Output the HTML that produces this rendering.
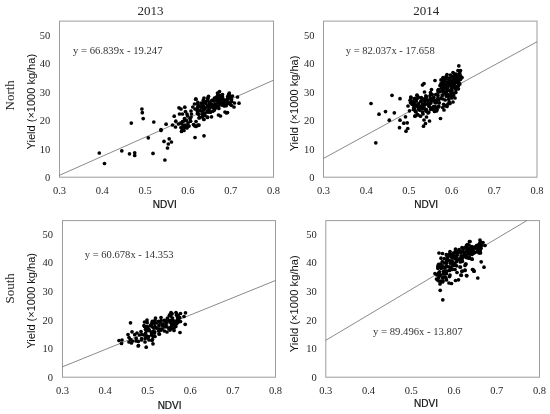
<!DOCTYPE html>
<html lang="en"><head><meta charset="utf-8"><title>NDVI vs Yield</title>
<style>
html,body{margin:0;padding:0;background:#fff;}
body{width:550px;height:414px;overflow:hidden;}
svg{display:block;}
.se{font-family:"Liberation Serif","DejaVu Serif",serif;}
.sa{font-family:"Liberation Sans","DejaVu Sans",sans-serif;}
</style></head><body>
<svg width="550" height="414" viewBox="0 0 550 414">
<rect width="550" height="414" fill="#fff"/>
<g class="se" fill="#262626" font-size="13px" text-anchor="middle"><text x="150.6" y="15">2013</text><text x="426.2" y="15">2014</text><text transform="translate(14.0,95.3) rotate(-90)">North</text><text transform="translate(14.3,288.4) rotate(-90)">South</text></g>
<g id="TL">
<rect x="59.5" y="21.1" width="214.0" height="156.1" fill="none" stroke="#9c9c9c" stroke-width="1"/>
<line x1="59.5" y1="175.3" x2="273.5" y2="80.2" stroke="#585858" stroke-width="0.7"/>
<g class="se" fill="#262626" font-size="10.5px" text-anchor="end"><text x="50.2" y="181.0">0</text><text x="50.2" y="152.5">10</text><text x="50.2" y="124.1">20</text><text x="50.2" y="95.6">30</text><text x="50.2" y="67.2">40</text><text x="50.2" y="38.7">50</text></g>
<g class="se" fill="#262626" font-size="10.5px" text-anchor="middle"><text x="59.5" y="193.7">0.3</text><text x="102.3" y="193.7">0.4</text><text x="145.1" y="193.7">0.5</text><text x="187.9" y="193.7">0.6</text><text x="230.7" y="193.7">0.7</text><text x="273.5" y="193.7">0.8</text></g>
<text class="sa" fill="#111" stroke="#111" stroke-width="0.2" font-size="10px" text-anchor="middle" x="164.75" y="207.6">NDVI</text>
<text class="sa" fill="#111" font-size="11px" text-anchor="middle" textLength="95.5" lengthAdjust="spacingAndGlyphs" transform="translate(34.6,101.7) rotate(-90)">Yield (×1000 kg/ha)</text>
<text class="se" fill="#333" font-size="10.6px" x="73.1" y="53.5" textLength="89.4" lengthAdjust="spacingAndGlyphs">y = 66.839x - 19.247</text>
<g fill="#000"><circle cx="141.9" cy="109.0" r="1.85"/><circle cx="142.3" cy="112.7" r="1.85"/><circle cx="143.2" cy="118.6" r="1.85"/><circle cx="131.3" cy="123.1" r="1.85"/><circle cx="99.3" cy="153.0" r="1.85"/><circle cx="104.5" cy="163.5" r="1.85"/><circle cx="121.8" cy="150.8" r="1.85"/><circle cx="129.5" cy="153.8" r="1.85"/><circle cx="134.7" cy="152.8" r="1.85"/><circle cx="134.7" cy="155.5" r="1.85"/><circle cx="161.0" cy="130.5" r="1.85"/><circle cx="148.3" cy="137.8" r="1.85"/><circle cx="164.0" cy="141.4" r="1.85"/><circle cx="169.2" cy="138.8" r="1.85"/><circle cx="171.4" cy="142.0" r="1.85"/><circle cx="168.3" cy="144.0" r="1.85"/><circle cx="167.5" cy="148.0" r="1.85"/><circle cx="153.0" cy="153.4" r="1.85"/><circle cx="164.9" cy="160.0" r="1.85"/><circle cx="181.5" cy="131.5" r="1.85"/><circle cx="184.0" cy="130.5" r="1.85"/><circle cx="195.0" cy="137.5" r="1.85"/><circle cx="153.8" cy="122.0" r="1.85"/><circle cx="166.1" cy="124.2" r="1.85"/><circle cx="161.0" cy="129.5" r="1.85"/><circle cx="172.5" cy="125.0" r="1.85"/><circle cx="174.2" cy="116.2" r="1.85"/><circle cx="175.8" cy="121.2" r="1.85"/><circle cx="175.5" cy="127.0" r="1.85"/><circle cx="178.5" cy="124.0" r="1.85"/><circle cx="179.0" cy="107.8" r="1.85"/><circle cx="181.0" cy="109.0" r="1.85"/><circle cx="184.8" cy="107.2" r="1.85"/><circle cx="179.5" cy="114.0" r="1.85"/><circle cx="182.5" cy="114.0" r="1.85"/><circle cx="185.5" cy="111.5" r="1.85"/><circle cx="187.0" cy="114.0" r="1.85"/><circle cx="187.5" cy="116.0" r="1.85"/><circle cx="184.5" cy="118.5" r="1.85"/><circle cx="182.5" cy="121.5" r="1.85"/><circle cx="182.0" cy="124.0" r="1.85"/><circle cx="183.5" cy="126.0" r="1.85"/><circle cx="181.0" cy="127.5" r="1.85"/><circle cx="185.0" cy="127.5" r="1.85"/><circle cx="187.5" cy="126.0" r="1.85"/><circle cx="190.5" cy="121.2" r="1.85"/><circle cx="191.0" cy="117.0" r="1.85"/><circle cx="191.5" cy="114.0" r="1.85"/><circle cx="191.0" cy="111.0" r="1.85"/><circle cx="192.8" cy="107.0" r="1.85"/><circle cx="194.5" cy="104.0" r="1.85"/><circle cx="195.7" cy="99.2" r="1.85"/><circle cx="195.0" cy="109.0" r="1.85"/><circle cx="197.5" cy="110.5" r="1.85"/><circle cx="198.0" cy="114.0" r="1.85"/><circle cx="199.0" cy="118.0" r="1.85"/><circle cx="196.0" cy="121.5" r="1.85"/><circle cx="194.0" cy="125.0" r="1.85"/><circle cx="196.0" cy="126.5" r="1.85"/><circle cx="199.0" cy="125.0" r="1.85"/><circle cx="196" cy="99" r="1.85"/><circle cx="204" cy="98" r="1.85"/><circle cx="208.5" cy="96.3" r="1.85"/><circle cx="214.5" cy="98" r="1.85"/><circle cx="217.5" cy="93" r="1.85"/><circle cx="219.5" cy="91.5" r="1.85"/><circle cx="219" cy="95" r="1.85"/><circle cx="222.5" cy="94.5" r="1.85"/><circle cx="229.3" cy="93" r="1.85"/><circle cx="229.5" cy="95.5" r="1.85"/><circle cx="232.5" cy="96" r="1.85"/><circle cx="237.5" cy="97" r="1.85"/><circle cx="239" cy="103.2" r="1.85"/><circle cx="234" cy="107" r="1.85"/><circle cx="234.5" cy="103" r="1.85"/><circle cx="225" cy="112" r="1.85"/><circle cx="227.5" cy="112.5" r="1.85"/><circle cx="218.5" cy="115" r="1.85"/><circle cx="220.5" cy="116" r="1.85"/><circle cx="211.5" cy="116.8" r="1.85"/><circle cx="207.5" cy="117" r="1.85"/><circle cx="204" cy="119.5" r="1.85"/><circle cx="199.5" cy="117.5" r="1.85"/><circle cx="198" cy="125" r="1.85"/><circle cx="204" cy="135.8" r="1.85"/><circle cx="198" cy="125.5" r="1.85"/><circle cx="195" cy="126" r="1.85"/><circle cx="193.5" cy="124.5" r="1.85"/><circle cx="190.5" cy="121" r="1.85"/><circle cx="186.5" cy="125.5" r="1.85"/><circle cx="188.5" cy="126" r="1.85"/><circle cx="203.5" cy="119" r="1.85"/><circle cx="200" cy="117.5" r="1.85"/><circle cx="207.5" cy="117.5" r="1.85"/><circle cx="226.5" cy="113" r="1.85"/><circle cx="217.8" cy="94.9" r="1.85"/><circle cx="220.5" cy="95.5" r="1.85"/><circle cx="228.5" cy="94.7" r="1.85"/><circle cx="207.8" cy="98.0" r="1.85"/><circle cx="216.3" cy="97.0" r="1.85"/><circle cx="219.1" cy="98.1" r="1.85"/><circle cx="222.5" cy="97.1" r="1.85"/><circle cx="227.7" cy="96.5" r="1.85"/><circle cx="228.9" cy="97.9" r="1.85"/><circle cx="231.3" cy="96.7" r="1.85"/><circle cx="203.3" cy="100.2" r="1.85"/><circle cx="207.9" cy="98.8" r="1.85"/><circle cx="212.5" cy="100.2" r="1.85"/><circle cx="216.6" cy="99.2" r="1.85"/><circle cx="219.0" cy="100.2" r="1.85"/><circle cx="220.6" cy="99.4" r="1.85"/><circle cx="223.0" cy="99.2" r="1.85"/><circle cx="225.0" cy="100.2" r="1.85"/><circle cx="227.6" cy="98.7" r="1.85"/><circle cx="231.4" cy="99.3" r="1.85"/><circle cx="197.8" cy="102.4" r="1.85"/><circle cx="204.6" cy="101.4" r="1.85"/><circle cx="207.4" cy="100.9" r="1.85"/><circle cx="209.5" cy="102.1" r="1.85"/><circle cx="211.5" cy="100.9" r="1.85"/><circle cx="214.1" cy="101.1" r="1.85"/><circle cx="217.1" cy="101.2" r="1.85"/><circle cx="220.0" cy="100.9" r="1.85"/><circle cx="222.9" cy="102.5" r="1.85"/><circle cx="224.6" cy="101.4" r="1.85"/><circle cx="227.1" cy="101.1" r="1.85"/><circle cx="230.2" cy="102.0" r="1.85"/><circle cx="231.7" cy="101.5" r="1.85"/><circle cx="197.9" cy="104.2" r="1.85"/><circle cx="201.2" cy="103.1" r="1.85"/><circle cx="202.5" cy="103.6" r="1.85"/><circle cx="205.8" cy="103.5" r="1.85"/><circle cx="209.0" cy="104.6" r="1.85"/><circle cx="210.5" cy="104.0" r="1.85"/><circle cx="212.4" cy="104.5" r="1.85"/><circle cx="215.4" cy="104.2" r="1.85"/><circle cx="218.7" cy="103.3" r="1.85"/><circle cx="221.3" cy="103.4" r="1.85"/><circle cx="223.3" cy="103.2" r="1.85"/><circle cx="225.6" cy="104.4" r="1.85"/><circle cx="227.9" cy="103.3" r="1.85"/><circle cx="230.2" cy="104.2" r="1.85"/><circle cx="197.9" cy="106.6" r="1.85"/><circle cx="200.3" cy="106.1" r="1.85"/><circle cx="202.7" cy="106.8" r="1.85"/><circle cx="203.7" cy="106.1" r="1.85"/><circle cx="207.5" cy="106.3" r="1.85"/><circle cx="210.0" cy="105.3" r="1.85"/><circle cx="211.8" cy="105.5" r="1.85"/><circle cx="214.5" cy="106.9" r="1.85"/><circle cx="217.1" cy="106.4" r="1.85"/><circle cx="219.0" cy="105.6" r="1.85"/><circle cx="222.5" cy="105.2" r="1.85"/><circle cx="224.3" cy="105.9" r="1.85"/><circle cx="226.2" cy="105.7" r="1.85"/><circle cx="231.3" cy="105.3" r="1.85"/><circle cx="197.7" cy="107.7" r="1.85"/><circle cx="201.0" cy="107.3" r="1.85"/><circle cx="203.9" cy="107.5" r="1.85"/><circle cx="205.5" cy="108.1" r="1.85"/><circle cx="209.0" cy="108.6" r="1.85"/><circle cx="210.2" cy="107.6" r="1.85"/><circle cx="213.3" cy="107.6" r="1.85"/><circle cx="215.5" cy="108.1" r="1.85"/><circle cx="218.8" cy="108.4" r="1.85"/><circle cx="197.2" cy="110.8" r="1.85"/><circle cx="200.2" cy="110.6" r="1.85"/><circle cx="202.4" cy="110.8" r="1.85"/><circle cx="203.9" cy="109.7" r="1.85"/><circle cx="207.3" cy="111.1" r="1.85"/><circle cx="209.1" cy="110.7" r="1.85"/><circle cx="212.8" cy="111.2" r="1.85"/><circle cx="214.4" cy="110.1" r="1.85"/><circle cx="197.5" cy="113.3" r="1.85"/><circle cx="203.2" cy="113.1" r="1.85"/><circle cx="205.1" cy="113.0" r="1.85"/><circle cx="208.0" cy="112.2" r="1.85"/><circle cx="210.5" cy="112.2" r="1.85"/><circle cx="198.9" cy="114.2" r="1.85"/><circle cx="202.4" cy="113.9" r="1.85"/><circle cx="205.0" cy="115.5" r="1.85"/><circle cx="202.4" cy="116.5" r="1.85"/><circle cx="181" cy="123" r="1.85"/><circle cx="183" cy="127.2" r="1.85"/><circle cx="185" cy="125" r="1.85"/><circle cx="187" cy="128" r="1.85"/><circle cx="182" cy="130" r="1.85"/><circle cx="184" cy="121" r="1.85"/><circle cx="188" cy="123" r="1.85"/><circle cx="190" cy="118.5" r="1.85"/><circle cx="186.5" cy="120.5" r="1.85"/><circle cx="189" cy="126" r="1.85"/></g>
</g>
<g id="TR">
<rect x="323.5" y="21.1" width="213.5" height="156.1" fill="none" stroke="#9c9c9c" stroke-width="1"/>
<line x1="323.5" y1="158.4" x2="537.0" y2="41.8" stroke="#585858" stroke-width="0.7"/>
<g class="se" fill="#262626" font-size="10.5px" text-anchor="end"><text x="314.5" y="181.0">0</text><text x="314.5" y="152.5">10</text><text x="314.5" y="124.1">20</text><text x="314.5" y="95.6">30</text><text x="314.5" y="67.2">40</text><text x="314.5" y="38.7">50</text></g>
<g class="se" fill="#262626" font-size="10.5px" text-anchor="middle"><text x="323.5" y="193.8">0.3</text><text x="366.2" y="193.8">0.4</text><text x="408.9" y="193.8">0.5</text><text x="451.6" y="193.8">0.6</text><text x="494.3" y="193.8">0.7</text><text x="537.0" y="193.8">0.8</text></g>
<text class="sa" fill="#111" stroke="#111" stroke-width="0.2" font-size="10px" text-anchor="middle" x="426.2" y="207.6">NDVI</text>
<text class="sa" fill="#111" font-size="11px" text-anchor="middle" textLength="95.7" lengthAdjust="spacingAndGlyphs" transform="translate(297.6,103.5) rotate(-90)">Yield (×1000 kg/ha)</text>
<text class="se" fill="#333" font-size="10.6px" x="345.7" y="53.5" textLength="89.0" lengthAdjust="spacingAndGlyphs">y = 82.037x - 17.658</text>
<g fill="#000"><circle cx="371" cy="103.5" r="1.85"/><circle cx="392" cy="95.3" r="1.85"/><circle cx="400" cy="98.7" r="1.85"/><circle cx="379" cy="114.2" r="1.85"/><circle cx="385.5" cy="111.6" r="1.85"/><circle cx="394.3" cy="112.8" r="1.85"/><circle cx="389.3" cy="120.2" r="1.85"/><circle cx="400" cy="120.2" r="1.85"/><circle cx="405.5" cy="116.8" r="1.85"/><circle cx="403.8" cy="123.2" r="1.85"/><circle cx="407.2" cy="122.8" r="1.85"/><circle cx="408" cy="106" r="1.85"/><circle cx="409.5" cy="110.8" r="1.85"/><circle cx="410.8" cy="97" r="1.85"/><circle cx="411" cy="100" r="1.85"/><circle cx="412.5" cy="102" r="1.85"/><circle cx="414" cy="108.5" r="1.85"/><circle cx="414.5" cy="104.5" r="1.85"/><circle cx="417" cy="95" r="1.85"/><circle cx="418" cy="98" r="1.85"/><circle cx="416" cy="112" r="1.85"/><circle cx="415" cy="116" r="1.85"/><circle cx="418" cy="115" r="1.85"/><circle cx="417" cy="105" r="1.85"/><circle cx="419" cy="109" r="1.85"/><circle cx="375.8" cy="142.8" r="1.85"/><circle cx="399.5" cy="127.7" r="1.85"/><circle cx="407.8" cy="128.5" r="1.85"/><circle cx="406" cy="131.2" r="1.85"/><circle cx="440.5" cy="118.5" r="1.85"/><circle cx="426.5" cy="117" r="1.85"/><circle cx="424" cy="120" r="1.85"/><circle cx="429.5" cy="121" r="1.85"/><circle cx="425.5" cy="123.5" r="1.85"/><circle cx="423.5" cy="126.2" r="1.85"/><circle cx="415" cy="116.2" r="1.85"/><circle cx="417.5" cy="114.5" r="1.85"/><circle cx="420.5" cy="116.2" r="1.85"/><circle cx="423" cy="114" r="1.85"/><circle cx="415.5" cy="111.5" r="1.85"/><circle cx="428" cy="113" r="1.85"/><circle cx="434.5" cy="111.5" r="1.85"/><circle cx="436.5" cy="111" r="1.85"/><circle cx="444" cy="110" r="1.85"/><circle cx="447" cy="106.5" r="1.85"/><circle cx="450" cy="103.5" r="1.85"/><circle cx="453" cy="102" r="1.85"/><circle cx="455" cy="98" r="1.85"/><circle cx="424.5" cy="92" r="1.85"/><circle cx="417" cy="95.5" r="1.85"/><circle cx="411" cy="97.5" r="1.85"/><circle cx="458.8" cy="65.8" r="1.85"/><circle cx="458" cy="70.5" r="1.85"/><circle cx="460.5" cy="70.5" r="1.85"/><circle cx="459" cy="74" r="1.85"/><circle cx="453" cy="72.5" r="1.85"/><circle cx="462" cy="77.5" r="1.85"/><circle cx="447" cy="74.5" r="1.85"/><circle cx="443" cy="77.5" r="1.85"/><circle cx="435" cy="80.5" r="1.85"/><circle cx="424" cy="83.5" r="1.85"/><circle cx="422.5" cy="85" r="1.85"/><circle cx="441" cy="83.5" r="1.85"/><circle cx="440" cy="85.5" r="1.85"/><circle cx="431.5" cy="89.5" r="1.85"/><circle cx="438.5" cy="89.5" r="1.85"/><circle cx="454.4" cy="74.0" r="1.85"/><circle cx="456.0" cy="74.1" r="1.85"/><circle cx="459.8" cy="72.9" r="1.85"/><circle cx="446.2" cy="76.3" r="1.85"/><circle cx="450.4" cy="75.0" r="1.85"/><circle cx="453.0" cy="76.4" r="1.85"/><circle cx="455.7" cy="75.2" r="1.85"/><circle cx="457.1" cy="76.3" r="1.85"/><circle cx="460.2" cy="75.4" r="1.85"/><circle cx="445.0" cy="78.1" r="1.85"/><circle cx="447.5" cy="78.5" r="1.85"/><circle cx="449.0" cy="78.1" r="1.85"/><circle cx="451.5" cy="77.2" r="1.85"/><circle cx="454.1" cy="77.5" r="1.85"/><circle cx="457.2" cy="78.2" r="1.85"/><circle cx="458.3" cy="77.8" r="1.85"/><circle cx="461.1" cy="77.0" r="1.85"/><circle cx="441.0" cy="79.9" r="1.85"/><circle cx="442.8" cy="79.3" r="1.85"/><circle cx="445.2" cy="79.3" r="1.85"/><circle cx="448.9" cy="80.5" r="1.85"/><circle cx="450.3" cy="80.3" r="1.85"/><circle cx="453.4" cy="80.1" r="1.85"/><circle cx="455.5" cy="79.5" r="1.85"/><circle cx="457.3" cy="80.2" r="1.85"/><circle cx="460.5" cy="79.3" r="1.85"/><circle cx="442.8" cy="81.5" r="1.85"/><circle cx="445.0" cy="81.2" r="1.85"/><circle cx="447.2" cy="82.4" r="1.85"/><circle cx="449.0" cy="82.6" r="1.85"/><circle cx="451.7" cy="82.1" r="1.85"/><circle cx="453.8" cy="81.8" r="1.85"/><circle cx="456.4" cy="82.3" r="1.85"/><circle cx="458.7" cy="81.9" r="1.85"/><circle cx="441.5" cy="84.7" r="1.85"/><circle cx="443.8" cy="84.1" r="1.85"/><circle cx="446.5" cy="84.5" r="1.85"/><circle cx="448.9" cy="83.7" r="1.85"/><circle cx="450.0" cy="84.5" r="1.85"/><circle cx="452.3" cy="84.7" r="1.85"/><circle cx="454.8" cy="84.1" r="1.85"/><circle cx="458.5" cy="83.4" r="1.85"/><circle cx="459.8" cy="83.9" r="1.85"/><circle cx="442.9" cy="86.1" r="1.85"/><circle cx="445.2" cy="86.8" r="1.85"/><circle cx="446.3" cy="86.5" r="1.85"/><circle cx="449.5" cy="85.6" r="1.85"/><circle cx="451.6" cy="85.6" r="1.85"/><circle cx="453.9" cy="85.5" r="1.85"/><circle cx="456.9" cy="86.8" r="1.85"/><circle cx="458.5" cy="85.7" r="1.85"/><circle cx="441.3" cy="88.0" r="1.85"/><circle cx="443.4" cy="88.6" r="1.85"/><circle cx="446.5" cy="87.9" r="1.85"/><circle cx="447.5" cy="87.7" r="1.85"/><circle cx="451.3" cy="87.9" r="1.85"/><circle cx="453.4" cy="87.6" r="1.85"/><circle cx="455.6" cy="88.3" r="1.85"/><circle cx="458.4" cy="88.8" r="1.85"/><circle cx="442.3" cy="90.1" r="1.85"/><circle cx="443.9" cy="90.1" r="1.85"/><circle cx="447.0" cy="90.0" r="1.85"/><circle cx="449.6" cy="90.5" r="1.85"/><circle cx="451.9" cy="90.3" r="1.85"/><circle cx="455.9" cy="89.7" r="1.85"/><circle cx="443.2" cy="92.1" r="1.85"/><circle cx="446.3" cy="91.8" r="1.85"/><circle cx="450.9" cy="92.8" r="1.85"/><circle cx="453.6" cy="93.0" r="1.85"/><circle cx="455.8" cy="92.4" r="1.85"/><circle cx="444.9" cy="93.9" r="1.85"/><circle cx="447.2" cy="93.9" r="1.85"/><circle cx="449.8" cy="95.0" r="1.85"/><circle cx="452.3" cy="94.9" r="1.85"/><circle cx="453.7" cy="95.1" r="1.85"/><circle cx="446.4" cy="96.2" r="1.85"/><circle cx="448.6" cy="96.2" r="1.85"/><circle cx="450.8" cy="95.8" r="1.85"/><circle cx="452.8" cy="96.1" r="1.85"/><circle cx="448.7" cy="99.2" r="1.85"/><circle cx="451.8" cy="97.9" r="1.85"/><circle cx="438.0" cy="90.4" r="1.85"/><circle cx="430.5" cy="92.6" r="1.85"/><circle cx="438.2" cy="92.2" r="1.85"/><circle cx="440.2" cy="91.6" r="1.85"/><circle cx="425.8" cy="95.8" r="1.85"/><circle cx="432.2" cy="94.5" r="1.85"/><circle cx="435.7" cy="94.5" r="1.85"/><circle cx="437.9" cy="95.4" r="1.85"/><circle cx="442.3" cy="95.4" r="1.85"/><circle cx="414.8" cy="98.6" r="1.85"/><circle cx="421.3" cy="97.7" r="1.85"/><circle cx="424.4" cy="98.9" r="1.85"/><circle cx="426.7" cy="96.9" r="1.85"/><circle cx="430.4" cy="98.6" r="1.85"/><circle cx="432.8" cy="98.6" r="1.85"/><circle cx="437.7" cy="98.7" r="1.85"/><circle cx="440.8" cy="98.2" r="1.85"/><circle cx="443.0" cy="99.0" r="1.85"/><circle cx="410.1" cy="100.2" r="1.85"/><circle cx="413.3" cy="101.8" r="1.85"/><circle cx="416.3" cy="99.8" r="1.85"/><circle cx="421.8" cy="100.9" r="1.85"/><circle cx="425.0" cy="101.5" r="1.85"/><circle cx="428.3" cy="100.3" r="1.85"/><circle cx="431.2" cy="101.1" r="1.85"/><circle cx="436.3" cy="100.8" r="1.85"/><circle cx="438.7" cy="99.9" r="1.85"/><circle cx="445.2" cy="100.0" r="1.85"/><circle cx="449.2" cy="101.9" r="1.85"/><circle cx="410.5" cy="102.7" r="1.85"/><circle cx="418.0" cy="104.4" r="1.85"/><circle cx="424.3" cy="104.1" r="1.85"/><circle cx="428.2" cy="103.6" r="1.85"/><circle cx="429.9" cy="103.6" r="1.85"/><circle cx="436.2" cy="102.7" r="1.85"/><circle cx="439.3" cy="102.8" r="1.85"/><circle cx="443.6" cy="104.3" r="1.85"/><circle cx="447.8" cy="104.2" r="1.85"/><circle cx="416.7" cy="106.1" r="1.85"/><circle cx="419.6" cy="106.0" r="1.85"/><circle cx="422.5" cy="107.2" r="1.85"/><circle cx="429.1" cy="106.4" r="1.85"/><circle cx="432.7" cy="107.3" r="1.85"/><circle cx="435.2" cy="106.5" r="1.85"/><circle cx="438.7" cy="106.9" r="1.85"/><circle cx="442.7" cy="107.5" r="1.85"/><circle cx="445.4" cy="105.7" r="1.85"/><circle cx="413.5" cy="109.5" r="1.85"/><circle cx="418.3" cy="109.1" r="1.85"/><circle cx="419.8" cy="110.2" r="1.85"/><circle cx="426.4" cy="109.7" r="1.85"/><circle cx="431.0" cy="109.0" r="1.85"/><circle cx="433.1" cy="109.4" r="1.85"/><circle cx="436.7" cy="110.1" r="1.85"/><circle cx="422.5" cy="112.0" r="1.85"/><circle cx="426.1" cy="111.2" r="1.85"/><circle cx="428.9" cy="112.1" r="1.85"/><circle cx="430.1" cy="95.6" r="1.85"/><circle cx="414.5" cy="98.5" r="1.85"/><circle cx="418.3" cy="97.2" r="1.85"/><circle cx="421.7" cy="98.3" r="1.85"/><circle cx="425.9" cy="97.9" r="1.85"/><circle cx="431.1" cy="98.5" r="1.85"/><circle cx="433.7" cy="97.3" r="1.85"/><circle cx="416.3" cy="101.1" r="1.85"/><circle cx="420.6" cy="101.6" r="1.85"/><circle cx="422.7" cy="100.7" r="1.85"/><circle cx="426.9" cy="100.4" r="1.85"/><circle cx="433.8" cy="100.8" r="1.85"/><circle cx="435.4" cy="100.3" r="1.85"/><circle cx="412.1" cy="104.3" r="1.85"/><circle cx="414.1" cy="102.7" r="1.85"/><circle cx="418.5" cy="103.8" r="1.85"/><circle cx="422.5" cy="104.4" r="1.85"/><circle cx="425.4" cy="104.3" r="1.85"/><circle cx="430.9" cy="102.9" r="1.85"/><circle cx="435.1" cy="102.7" r="1.85"/><circle cx="413.8" cy="107.3" r="1.85"/><circle cx="419.2" cy="107.3" r="1.85"/><circle cx="424.0" cy="107.0" r="1.85"/><circle cx="428.8" cy="105.6" r="1.85"/><circle cx="433.7" cy="106.5" r="1.85"/><circle cx="438.7" cy="106.2" r="1.85"/><circle cx="414.7" cy="109.9" r="1.85"/><circle cx="422.1" cy="108.7" r="1.85"/><circle cx="424.8" cy="109.2" r="1.85"/><circle cx="430.8" cy="109.2" r="1.85"/><circle cx="435.8" cy="108.6" r="1.85"/><circle cx="437.0" cy="109.4" r="1.85"/></g>
</g>
<g id="BL">
<rect x="62.5" y="220.6" width="213.0" height="156.6" fill="none" stroke="#9c9c9c" stroke-width="1"/>
<line x1="62.5" y1="366.8" x2="275.5" y2="280.5" stroke="#585858" stroke-width="0.7"/>
<g class="se" fill="#262626" font-size="10.5px" text-anchor="end"><text x="53.0" y="380.7">0</text><text x="53.0" y="352.1">10</text><text x="53.0" y="323.6">20</text><text x="53.0" y="295.0">30</text><text x="53.0" y="266.4">40</text><text x="53.0" y="237.8">50</text></g>
<g class="se" fill="#262626" font-size="10.5px" text-anchor="middle"><text x="62.5" y="393.5">0.3</text><text x="105.1" y="393.5">0.4</text><text x="147.7" y="393.5">0.5</text><text x="190.3" y="393.5">0.6</text><text x="232.9" y="393.5">0.7</text><text x="275.5" y="393.5">0.8</text></g>
<text class="sa" fill="#111" stroke="#111" stroke-width="0.2" font-size="10px" text-anchor="middle" x="169.6" y="409.3">NDVI</text>
<text class="sa" fill="#111" font-size="11px" text-anchor="middle" textLength="95.6" lengthAdjust="spacingAndGlyphs" transform="translate(35.1,300.8) rotate(-90)">Yield (×1000 kg/ha)</text>
<text class="se" fill="#333" font-size="10.6px" x="84.8" y="257.9" textLength="88.8" lengthAdjust="spacingAndGlyphs">y = 60.678x - 14.353</text>
<g fill="#000"><circle cx="130.5" cy="322.8" r="1.85"/><circle cx="132" cy="331.8" r="1.85"/><circle cx="128" cy="334.5" r="1.85"/><circle cx="119" cy="340.5" r="1.85"/><circle cx="122" cy="340" r="1.85"/><circle cx="121.5" cy="343.5" r="1.85"/><circle cx="129" cy="337.5" r="1.85"/><circle cx="130.5" cy="339.5" r="1.85"/><circle cx="129" cy="342" r="1.85"/><circle cx="132.5" cy="341" r="1.85"/><circle cx="136" cy="341" r="1.85"/><circle cx="137" cy="333" r="1.85"/><circle cx="141" cy="331.5" r="1.85"/><circle cx="139.5" cy="335" r="1.85"/><circle cx="144" cy="335" r="1.85"/><circle cx="141.5" cy="340" r="1.85"/><circle cx="145" cy="342" r="1.85"/><circle cx="147.5" cy="337" r="1.85"/><circle cx="147" cy="320" r="1.85"/><circle cx="144.5" cy="322" r="1.85"/><circle cx="144" cy="325.5" r="1.85"/><circle cx="147" cy="326.5" r="1.85"/><circle cx="149" cy="329.5" r="1.85"/><circle cx="138.5" cy="345.5" r="1.85"/><circle cx="131.5" cy="343" r="1.85"/><circle cx="138.2" cy="346" r="1.85"/><circle cx="146.2" cy="347.2" r="1.85"/><circle cx="153" cy="343.8" r="1.85"/><circle cx="149" cy="340" r="1.85"/><circle cx="152" cy="340.5" r="1.85"/><circle cx="151.5" cy="335" r="1.85"/><circle cx="155" cy="336.5" r="1.85"/><circle cx="159" cy="334" r="1.85"/><circle cx="149" cy="330.5" r="1.85"/><circle cx="144.5" cy="326.5" r="1.85"/><circle cx="148" cy="327" r="1.85"/><circle cx="185.5" cy="312.8" r="1.85"/><circle cx="184" cy="316.5" r="1.85"/><circle cx="185.2" cy="324.3" r="1.85"/><circle cx="180" cy="332.5" r="1.85"/><circle cx="180.5" cy="313.5" r="1.85"/><circle cx="176" cy="312.5" r="1.85"/><circle cx="171" cy="312.5" r="1.85"/><circle cx="180.5" cy="321.5" r="1.85"/><circle cx="174" cy="330.5" r="1.85"/><circle cx="167" cy="332" r="1.85"/><circle cx="159.5" cy="334" r="1.85"/><circle cx="155.5" cy="318" r="1.85"/><circle cx="161" cy="317.5" r="1.85"/><circle cx="167.5" cy="318" r="1.85"/><circle cx="153" cy="336.5" r="1.85"/><circle cx="148" cy="338" r="1.85"/><circle cx="152.5" cy="339.5" r="1.85"/><circle cx="170.2" cy="314.3" r="1.85"/><circle cx="172.1" cy="313.8" r="1.85"/><circle cx="176.8" cy="314.2" r="1.85"/><circle cx="169.4" cy="315.3" r="1.85"/><circle cx="170.8" cy="316.1" r="1.85"/><circle cx="176.6" cy="315.2" r="1.85"/><circle cx="178.2" cy="315.9" r="1.85"/><circle cx="172.5" cy="318.0" r="1.85"/><circle cx="177.6" cy="317.6" r="1.85"/><circle cx="179.8" cy="317.7" r="1.85"/><circle cx="166.0" cy="320.3" r="1.85"/><circle cx="169.1" cy="320.6" r="1.85"/><circle cx="171.0" cy="320.4" r="1.85"/><circle cx="173.3" cy="320.5" r="1.85"/><circle cx="176.8" cy="320.5" r="1.85"/><circle cx="178.2" cy="319.2" r="1.85"/><circle cx="165.7" cy="321.8" r="1.85"/><circle cx="167.0" cy="322.1" r="1.85"/><circle cx="170.4" cy="322.1" r="1.85"/><circle cx="171.9" cy="322.4" r="1.85"/><circle cx="174.4" cy="322.7" r="1.85"/><circle cx="178.1" cy="322.1" r="1.85"/><circle cx="179.4" cy="321.4" r="1.85"/><circle cx="165.9" cy="324.5" r="1.85"/><circle cx="171.6" cy="324.6" r="1.85"/><circle cx="173.8" cy="324.6" r="1.85"/><circle cx="176.7" cy="323.7" r="1.85"/><circle cx="167.0" cy="326.8" r="1.85"/><circle cx="170.6" cy="327.3" r="1.85"/><circle cx="171.9" cy="326.0" r="1.85"/><circle cx="175.8" cy="326.5" r="1.85"/><circle cx="168.9" cy="328.7" r="1.85"/><circle cx="171.4" cy="328.5" r="1.85"/><circle cx="174.1" cy="327.9" r="1.85"/><circle cx="170.0" cy="330.1" r="1.85"/><circle cx="152.3" cy="321.3" r="1.85"/><circle cx="155.0" cy="320.3" r="1.85"/><circle cx="158.6" cy="321.3" r="1.85"/><circle cx="161.2" cy="320.6" r="1.85"/><circle cx="164.2" cy="320.3" r="1.85"/><circle cx="147.2" cy="322.7" r="1.85"/><circle cx="151.6" cy="323.6" r="1.85"/><circle cx="154.5" cy="323.3" r="1.85"/><circle cx="156.9" cy="323.0" r="1.85"/><circle cx="160.2" cy="323.0" r="1.85"/><circle cx="163.1" cy="323.9" r="1.85"/><circle cx="150.4" cy="325.5" r="1.85"/><circle cx="152.1" cy="326.7" r="1.85"/><circle cx="155.0" cy="326.6" r="1.85"/><circle cx="158.9" cy="325.6" r="1.85"/><circle cx="162.2" cy="325.3" r="1.85"/><circle cx="164.7" cy="326.8" r="1.85"/><circle cx="145.6" cy="329.3" r="1.85"/><circle cx="147.1" cy="327.6" r="1.85"/><circle cx="153.8" cy="328.1" r="1.85"/><circle cx="156.9" cy="328.2" r="1.85"/><circle cx="159.6" cy="329.0" r="1.85"/><circle cx="162.2" cy="328.8" r="1.85"/><circle cx="146.4" cy="330.6" r="1.85"/><circle cx="152.8" cy="331.5" r="1.85"/><circle cx="154.8" cy="331.8" r="1.85"/><circle cx="158.7" cy="331.0" r="1.85"/><circle cx="160.9" cy="330.2" r="1.85"/><circle cx="164.4" cy="331.0" r="1.85"/><circle cx="145.5" cy="333.2" r="1.85"/><circle cx="151.4" cy="332.7" r="1.85"/><circle cx="154.3" cy="333.2" r="1.85"/><circle cx="146.2" cy="335.5" r="1.85"/><circle cx="148.6" cy="336.6" r="1.85"/><circle cx="134.7" cy="334.7" r="1.85"/><circle cx="141.7" cy="334.5" r="1.85"/><circle cx="145.4" cy="334.9" r="1.85"/><circle cx="136.2" cy="338.4" r="1.85"/><circle cx="141.6" cy="338.7" r="1.85"/><circle cx="145.1" cy="338.7" r="1.85"/><circle cx="138.3" cy="341.4" r="1.85"/></g>
</g>
<g id="BR">
<rect x="325.8" y="220.6" width="213.7" height="156.6" fill="none" stroke="#9c9c9c" stroke-width="1"/>
<line x1="325.8" y1="340.3" x2="526.8" y2="220.6" stroke="#585858" stroke-width="0.7"/>
<g class="se" fill="#262626" font-size="10.5px" text-anchor="end"><text x="316.7" y="380.7">0</text><text x="316.7" y="352.1">10</text><text x="316.7" y="323.6">20</text><text x="316.7" y="295.0">30</text><text x="316.7" y="266.4">40</text><text x="316.7" y="237.8">50</text></g>
<g class="se" fill="#262626" font-size="10.5px" text-anchor="middle"><text x="325.8" y="393.5">0.3</text><text x="368.5" y="393.5">0.4</text><text x="411.3" y="393.5">0.5</text><text x="454.0" y="393.5">0.6</text><text x="496.8" y="393.5">0.7</text><text x="539.5" y="393.5">0.8</text></g>
<text class="sa" fill="#111" stroke="#111" stroke-width="0.2" font-size="10px" text-anchor="middle" x="426.0" y="406.6">NDVI</text>
<text class="sa" fill="#111" font-size="11px" text-anchor="middle" textLength="97.0" lengthAdjust="spacingAndGlyphs" transform="translate(298.4,303.8) rotate(-90)">Yield (×1000 kg/ha)</text>
<text class="se" fill="#333" font-size="10.6px" x="373.1" y="335.3" textLength="89.5" lengthAdjust="spacingAndGlyphs">y = 89.496x - 13.807</text>
<g fill="#000"><circle cx="439" cy="253" r="1.85"/><circle cx="442.5" cy="253.5" r="1.85"/><circle cx="450" cy="251.5" r="1.85"/><circle cx="455.5" cy="249" r="1.85"/><circle cx="462" cy="247.5" r="1.85"/><circle cx="467.5" cy="244.5" r="1.85"/><circle cx="470" cy="241.5" r="1.85"/><circle cx="480" cy="240" r="1.85"/><circle cx="483" cy="242.5" r="1.85"/><circle cx="480.5" cy="253" r="1.85"/><circle cx="472" cy="259" r="1.85"/><circle cx="469" cy="258" r="1.85"/><circle cx="481.2" cy="261.8" r="1.85"/><circle cx="484" cy="267.2" r="1.85"/><circle cx="465.5" cy="264" r="1.85"/><circle cx="460.5" cy="267" r="1.85"/><circle cx="465" cy="270" r="1.85"/><circle cx="462" cy="271" r="1.85"/><circle cx="473" cy="269.5" r="1.85"/><circle cx="474" cy="271" r="1.85"/><circle cx="438" cy="266" r="1.85"/><circle cx="435" cy="273.5" r="1.85"/><circle cx="457" cy="272.5" r="1.85"/><circle cx="461" cy="275" r="1.85"/><circle cx="466.5" cy="275.5" r="1.85"/><circle cx="442.8" cy="299.8" r="1.85"/><circle cx="440.2" cy="290.3" r="1.85"/><circle cx="440" cy="284" r="1.85"/><circle cx="436.5" cy="279" r="1.85"/><circle cx="439" cy="281" r="1.85"/><circle cx="442.5" cy="282" r="1.85"/><circle cx="449" cy="283" r="1.85"/><circle cx="451.5" cy="283.5" r="1.85"/><circle cx="455.5" cy="280.5" r="1.85"/><circle cx="458.5" cy="279.8" r="1.85"/><circle cx="461.2" cy="275.3" r="1.85"/><circle cx="466.8" cy="275.8" r="1.85"/><circle cx="477.8" cy="278" r="1.85"/><circle cx="472.5" cy="269.5" r="1.85"/><circle cx="474" cy="271.2" r="1.85"/><circle cx="465" cy="270.5" r="1.85"/><circle cx="462" cy="271.5" r="1.85"/><circle cx="460" cy="267" r="1.85"/><circle cx="465" cy="265.5" r="1.85"/><circle cx="455" cy="269.5" r="1.85"/><circle cx="450" cy="275" r="1.85"/><circle cx="446" cy="278" r="1.85"/><circle cx="443" cy="277" r="1.85"/><circle cx="440" cy="275" r="1.85"/><circle cx="438.5" cy="273" r="1.85"/><circle cx="445" cy="271" r="1.85"/><circle cx="449" cy="270.5" r="1.85"/><circle cx="452" cy="269.5" r="1.85"/><circle cx="438" cy="266.5" r="1.85"/><circle cx="443" cy="267.5" r="1.85"/><circle cx="447" cy="266.5" r="1.85"/><circle cx="485" cy="245.5" r="1.85"/><circle cx="482" cy="245" r="1.85"/><circle cx="480.5" cy="248.5" r="1.85"/><circle cx="469.5" cy="241.5" r="1.85"/><circle cx="467" cy="245" r="1.85"/><circle cx="476.5" cy="245.5" r="1.85"/><circle cx="472.5" cy="248" r="1.85"/><circle cx="469" cy="250" r="1.85"/><circle cx="474.5" cy="252.5" r="1.85"/><circle cx="472" cy="254.5" r="1.85"/><circle cx="469" cy="258.2" r="1.85"/><circle cx="472" cy="259.2" r="1.85"/><circle cx="466" cy="264" r="1.85"/><circle cx="480.4" cy="241.9" r="1.85"/><circle cx="479.5" cy="243.5" r="1.85"/><circle cx="481.4" cy="242.6" r="1.85"/><circle cx="466.4" cy="245.8" r="1.85"/><circle cx="469.0" cy="245.1" r="1.85"/><circle cx="471.0" cy="247.0" r="1.85"/><circle cx="474.4" cy="247.0" r="1.85"/><circle cx="476.6" cy="246.4" r="1.85"/><circle cx="479.8" cy="246.6" r="1.85"/><circle cx="459.0" cy="249.5" r="1.85"/><circle cx="462.5" cy="248.2" r="1.85"/><circle cx="464.0" cy="248.7" r="1.85"/><circle cx="467.3" cy="248.3" r="1.85"/><circle cx="471.2" cy="248.2" r="1.85"/><circle cx="475.6" cy="247.8" r="1.85"/><circle cx="479.8" cy="247.9" r="1.85"/><circle cx="481.0" cy="248.3" r="1.85"/><circle cx="455.2" cy="251.7" r="1.85"/><circle cx="458.1" cy="251.4" r="1.85"/><circle cx="460.4" cy="251.5" r="1.85"/><circle cx="462.7" cy="251.5" r="1.85"/><circle cx="466.3" cy="251.5" r="1.85"/><circle cx="468.1" cy="251.4" r="1.85"/><circle cx="471.4" cy="251.4" r="1.85"/><circle cx="473.8" cy="251.6" r="1.85"/><circle cx="477.1" cy="251.9" r="1.85"/><circle cx="480.2" cy="250.9" r="1.85"/><circle cx="446.4" cy="254.6" r="1.85"/><circle cx="449.8" cy="253.6" r="1.85"/><circle cx="452.1" cy="254.4" r="1.85"/><circle cx="455.8" cy="252.7" r="1.85"/><circle cx="458.0" cy="252.9" r="1.85"/><circle cx="460.8" cy="252.7" r="1.85"/><circle cx="464.0" cy="254.2" r="1.85"/><circle cx="468.4" cy="253.0" r="1.85"/><circle cx="471.2" cy="253.8" r="1.85"/><circle cx="472.7" cy="253.3" r="1.85"/><circle cx="479.2" cy="253.0" r="1.85"/><circle cx="446.6" cy="255.2" r="1.85"/><circle cx="448.9" cy="255.6" r="1.85"/><circle cx="451.4" cy="257.1" r="1.85"/><circle cx="453.5" cy="255.9" r="1.85"/><circle cx="461.1" cy="255.8" r="1.85"/><circle cx="463.9" cy="256.7" r="1.85"/><circle cx="469.2" cy="256.9" r="1.85"/><circle cx="441.0" cy="258.2" r="1.85"/><circle cx="444.3" cy="258.6" r="1.85"/><circle cx="447.6" cy="258.1" r="1.85"/><circle cx="452.9" cy="258.0" r="1.85"/><circle cx="455.5" cy="258.9" r="1.85"/><circle cx="458.6" cy="259.2" r="1.85"/><circle cx="462.1" cy="259.0" r="1.85"/><circle cx="466.7" cy="257.7" r="1.85"/><circle cx="442.3" cy="261.5" r="1.85"/><circle cx="446.7" cy="260.4" r="1.85"/><circle cx="449.4" cy="260.7" r="1.85"/><circle cx="452.0" cy="260.8" r="1.85"/><circle cx="456.7" cy="261.6" r="1.85"/><circle cx="460.3" cy="262.0" r="1.85"/><circle cx="462.3" cy="261.3" r="1.85"/><circle cx="438.6" cy="264.4" r="1.85"/><circle cx="440.5" cy="264.0" r="1.85"/><circle cx="444.0" cy="262.9" r="1.85"/><circle cx="446.4" cy="263.3" r="1.85"/><circle cx="450.4" cy="263.2" r="1.85"/><circle cx="453.2" cy="262.7" r="1.85"/><circle cx="454.9" cy="263.7" r="1.85"/><circle cx="439.5" cy="267.1" r="1.85"/><circle cx="442.2" cy="265.9" r="1.85"/><circle cx="445.5" cy="266.9" r="1.85"/><circle cx="449.1" cy="266.8" r="1.85"/><circle cx="452.3" cy="265.8" r="1.85"/><circle cx="454.2" cy="265.3" r="1.85"/><circle cx="456.6" cy="265.8" r="1.85"/><circle cx="437.9" cy="268.3" r="1.85"/><circle cx="441.2" cy="268.5" r="1.85"/><circle cx="444.5" cy="267.9" r="1.85"/><circle cx="450.8" cy="268.3" r="1.85"/><circle cx="452.2" cy="269.2" r="1.85"/><circle cx="439.5" cy="271.9" r="1.85"/><circle cx="443.6" cy="271.6" r="1.85"/><circle cx="446.5" cy="271.2" r="1.85"/><circle cx="449.5" cy="270.4" r="1.85"/><circle cx="443.4" cy="273.4" r="1.85"/><circle cx="436.9" cy="274.9" r="1.85"/><circle cx="440.5" cy="275.1" r="1.85"/><circle cx="444.2" cy="274.0" r="1.85"/><circle cx="446.4" cy="273.7" r="1.85"/><circle cx="438.8" cy="277.4" r="1.85"/><circle cx="442.6" cy="278.0" r="1.85"/><circle cx="445.2" cy="277.0" r="1.85"/><circle cx="449.5" cy="276.6" r="1.85"/><circle cx="437.6" cy="280.0" r="1.85"/><circle cx="440.7" cy="281.2" r="1.85"/><circle cx="443.1" cy="280.9" r="1.85"/><circle cx="446.5" cy="279.9" r="1.85"/><circle cx="471.8" cy="246.5" r="1.85"/><circle cx="478.1" cy="245.2" r="1.85"/><circle cx="481.0" cy="245.8" r="1.85"/><circle cx="465.1" cy="247.5" r="1.85"/><circle cx="467.3" cy="248.6" r="1.85"/><circle cx="470.3" cy="248.3" r="1.85"/><circle cx="472.4" cy="247.7" r="1.85"/><circle cx="475.4" cy="248.2" r="1.85"/><circle cx="478.1" cy="248.2" r="1.85"/><circle cx="459.8" cy="251.5" r="1.85"/><circle cx="466.8" cy="251.6" r="1.85"/><circle cx="472.5" cy="250.4" r="1.85"/><circle cx="477.9" cy="250.8" r="1.85"/><circle cx="453.3" cy="253.1" r="1.85"/><circle cx="456.1" cy="252.5" r="1.85"/><circle cx="464.8" cy="252.3" r="1.85"/><circle cx="469.2" cy="253.7" r="1.85"/><circle cx="473.8" cy="253.1" r="1.85"/><circle cx="448.9" cy="255.8" r="1.85"/><circle cx="451.3" cy="256.2" r="1.85"/><circle cx="455.0" cy="256.2" r="1.85"/><circle cx="457.1" cy="255.3" r="1.85"/><circle cx="463.6" cy="256.6" r="1.85"/><circle cx="466.3" cy="255.0" r="1.85"/><circle cx="456.6" cy="258.7" r="1.85"/><circle cx="460.0" cy="258.8" r="1.85"/><circle cx="460.9" cy="257.8" r="1.85"/><circle cx="447.2" cy="261.1" r="1.85"/></g>
</g>
</svg>
</body></html>
